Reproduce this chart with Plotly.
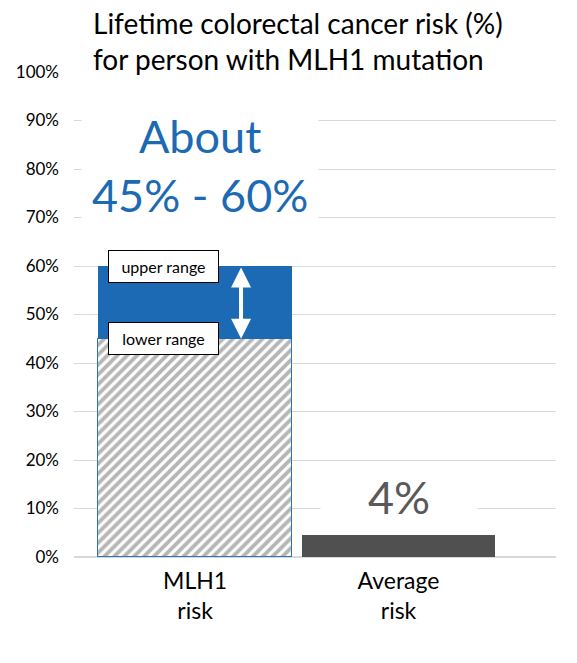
import plotly.graph_objects as go

categories = ["MLH1<br>risk", "Average<br>risk"]
mlh1_lower = 45
mlh1_upper = 60
average_risk = 4.5
average_label = "4%"
range_label = "About<br>45% - 60%"
title_text = "Lifetime colorectal cancer risk (%)<br>for person with MLH1 mutation"
y_ticks = list(range(0, 101, 10))
y_tick_text = [f"{v}%" for v in y_ticks]

BLUE = "#1C69B4"
FONT = "Lato"

fig = go.Figure()

fig.add_trace(go.Bar(
    x=[categories[0]], y=[mlh1_lower], width=0.953,
    marker=dict(color="white", line=dict(color="#2E75B6", width=1.2),
                pattern=dict(shape="/", fgcolor="#6E6E6E", bgcolor="white", size=7, solidity=0.55)),
    hoverinfo="skip", showlegend=False))
fig.add_trace(go.Bar(
    x=[categories[0]], y=[mlh1_upper - mlh1_lower], width=0.953,
    marker=dict(color=BLUE, line=dict(width=0)),
    hoverinfo="skip", showlegend=False))
fig.add_trace(go.Bar(
    x=[categories[1]], y=[average_risk], width=0.953,
    marker=dict(color="#505050", line=dict(width=0)),
    hoverinfo="skip", showlegend=False))

# title
fig.add_annotation(x=(91 - 74) / 482, y=1 + (72 - 4) / 485, xref="paper", yref="paper",
                   text=title_text, showarrow=False, align="left",
                   xanchor="left", yanchor="top",
                   font=dict(family=FONT, size=28, color="black"))

# range text
fig.add_annotation(x=0.025, y=80.8, xref="x", yref="y", text=range_label, showarrow=False,
                   font=dict(family=FONT, size=45, color=BLUE), bgcolor="white", borderpad=10,
                   xanchor="center", yanchor="middle")
fig.add_annotation(x=1, y=12.4, xref="x", yref="y", text=average_label, showarrow=False,
                   font=dict(family=FONT, size=45, color="#595959"), bgcolor="white",
                   width=156, height=46, borderpad=0, xanchor="center", yanchor="middle")

# upper/lower range labels
for val, txt in [(mlh1_upper, "upper range"), (mlh1_lower, "lower range")]:
    fig.add_annotation(x=-0.157, y=val, xref="x", yref="y", text=txt, showarrow=False,
                       font=dict(family=FONT, size=16, color="black"), bgcolor="white",
                       bordercolor="black", borderwidth=1, borderpad=5, width=99, height=21,
                       xanchor="center", yanchor="middle")

# double-headed arrow
fig.add_annotation(x=0.226, y=mlh1_lower, ax=0.226, ay=mlh1_upper, xref="x", yref="y",
                   axref="x", ayref="y", text="", showarrow=True, arrowside="end+start",
                   arrowhead=2, arrowsize=1, arrowwidth=4, arrowcolor="white",
                   standoff=0, startstandoff=0)

fig.update_layout(
    width=577, height=663,
    margin=dict(l=74, r=21, t=72, b=106),
    paper_bgcolor="white", plot_bgcolor="white",
    barmode="stack", bargap=0,
    font=dict(family=FONT, color="black"),
    xaxis=dict(type="category", range=[-0.595, 1.774], showgrid=False, showline=False,
               ticks="", tickfont=dict(family=FONT, size=23, color="black"), ticklabelstandoff=8),
    yaxis=dict(range=[0, 100], tickvals=y_ticks, ticktext=y_tick_text, showgrid=True,
               gridcolor="#D9D9D9", gridwidth=1, zeroline=True, zerolinecolor="#D9D9D9",
               showline=False, ticks="", tickfont=dict(family=FONT, size=17, color="black"),
               ticklabelstandoff=14),
)

fig.write_html("out.html", config={"displayModeBar": False},
               post_script="document.body.style.margin='0px';")
